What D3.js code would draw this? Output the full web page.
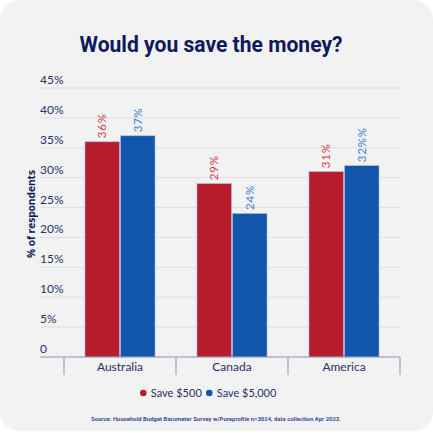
<!DOCTYPE html>
<html><head><meta charset="utf-8">
<script src="https://cdn.jsdelivr.net/npm/d3@7"></script>
<style>html,body{margin:0;padding:0;background:#fff;}svg{display:block;}</style>
</head><body><svg id="c" width="433" height="433"></svg>
<script>
const categories = ["Australia","Canada","America"];
const seriesNames = ["Save $500","Save $5,000"];
const save500 = [36,29,31];
const save5000 = [37,24,32];
const valueLabels500 = ["36%","29%","31%"];
const valueLabels5000 = ["37%","24%","32%%"];
const yTicks = [0,5,10,15,20,25,30,35,40,45];
const yTickLabels = ["0","5%","10%","15%","20%","25%","30%","35%","40%","45%"];

const barColors = ["#b71c2c","#1156aa"];
const labelColors = ["#d0424c","#3f7fd0"];
const navy = "#28316a";

const svg = d3.select("#c");
svg.append("rect").attr("x",0).attr("y",0).attr("width",433).attr("height",431).attr("rx",20).attr("fill","#f2f2f3");

svg.append("text").attr("x",211).attr("y",52).attr("text-anchor","middle")
  .attr("font-family","Roboto").attr("font-weight","bold").attr("font-size",21.5)
  .attr("fill","#0e1a5c").attr("textLength",263).attr("lengthAdjust","spacingAndGlyphs")
  .text("Would you save the money?");

const y = d3.scaleLinear().domain([0,45]).range([357,88]);
const x0 = d3.scaleBand().domain(categories).range([64,400]).paddingInner(0).paddingOuter(0);
const x1 = d3.scaleBand().domain(seriesNames).range([21,x0.bandwidth()-21]).paddingInner(0.03);

// grid
const g = svg.append("g");
g.selectAll("line.grid").data(yTicks.filter(d=>d>0)).join("line")
  .attr("x1",40).attr("x2",400).attr("y1",d=>y(d)).attr("y2",d=>y(d))
  .attr("stroke","#dfdfe2").attr("stroke-width",1);
g.selectAll("text.tick").data(yTicks).join("text")
  .attr("x",40).attr("y",d=>y(d)-4).attr("font-family","Lato").attr("font-size",12)
  .attr("fill",navy).text((d,i)=>yTickLabels[i]);

// y label
svg.append("text").attr("transform","translate(35,214) rotate(-90)").attr("text-anchor","middle")
  .attr("font-family","Open Sans").attr("font-weight","bold").attr("font-size",11)
  .attr("fill","#0e1a5c").attr("textLength",88).attr("lengthAdjust","spacingAndGlyphs")
  .text("% of respondents");

const data = categories.map((c,i)=>({c, vals:[save500[i],save5000[i]], labs:[valueLabels500[i],valueLabels5000[i]]}));
const grp = svg.append("g").selectAll("g").data(data).join("g").attr("transform",d=>`translate(${x0(d.c)},0)`);
grp.selectAll("rect").data(d=>d.vals.map((v,j)=>({v,j,s:seriesNames[j]}))).join("rect")
  .attr("x",d=>x1(d.s)).attr("width",x1.bandwidth()).attr("y",d=>y(d.v)).attr("height",d=>y(0)-y(d.v))
  .attr("fill",d=>barColors[d.j]).attr("stroke","#a9b4d0").attr("stroke-width",0.6);
grp.selectAll("text").data(d=>d.vals.map((v,j)=>({v,j,s:seriesNames[j],l:d.labs[j]}))).join("text")
  .attr("transform",d=>`translate(${x1(d.s)+x1.bandwidth()/2+4},${y(d.v)-3.5}) rotate(-90)`)
  .attr("font-family","Lato").attr("font-size",11.5).attr("letter-spacing",0.8)
  .attr("fill",d=>labelColors[d.j]).text(d=>d.l);

// x axis
const ax = svg.append("g");
ax.append("line").attr("x1",40).attr("x2",400).attr("y1",357).attr("y2",357).attr("stroke","#8b93b6").attr("stroke-width",1.2);
const seps = categories.map(c=>x0(c)).concat([x0.range()[1]]);
ax.selectAll("line.sep").data(seps).join("line").attr("class","sep")
  .attr("x1",d=>d).attr("x2",d=>d).attr("y1",357).attr("y2",375).attr("stroke","#8b93b6").attr("stroke-width",1);
ax.selectAll("text").data(categories).join("text")
  .attr("x",d=>x0(d)+x0.bandwidth()/2).attr("y",371).attr("text-anchor","middle")
  .attr("font-family","Lato").attr("font-size",12).attr("fill",navy).text(d=>d);

// legend
const leg = svg.append("g");
const legX = [143.3,209.3];
const legW = [51,59.5];
seriesNames.forEach((s,i)=>{
  leg.append("circle").attr("cx",legX[i]).attr("cy",393).attr("r",3.3).attr("fill",barColors[i]);
  leg.append("text").attr("x",legX[i]+7.5).attr("y",397.3).attr("font-family","Lato").attr("font-size",12)
    .attr("textLength",legW[i]).attr("lengthAdjust","spacingAndGlyphs")
    .attr("fill",navy).text(s);
});

svg.append("text").attr("x",216).attr("y",421).attr("text-anchor","middle")
  .attr("font-family","Roboto").attr("font-weight","bold").attr("font-size",6)
  .attr("textLength",250).attr("lengthAdjust","spacingAndGlyphs")
  .attr("fill","#3d4a9a").text("Source: Household Budget Barometer Survey w/Pureprofile n=3024, data collection Apr 2023.");
</script></body></html>
